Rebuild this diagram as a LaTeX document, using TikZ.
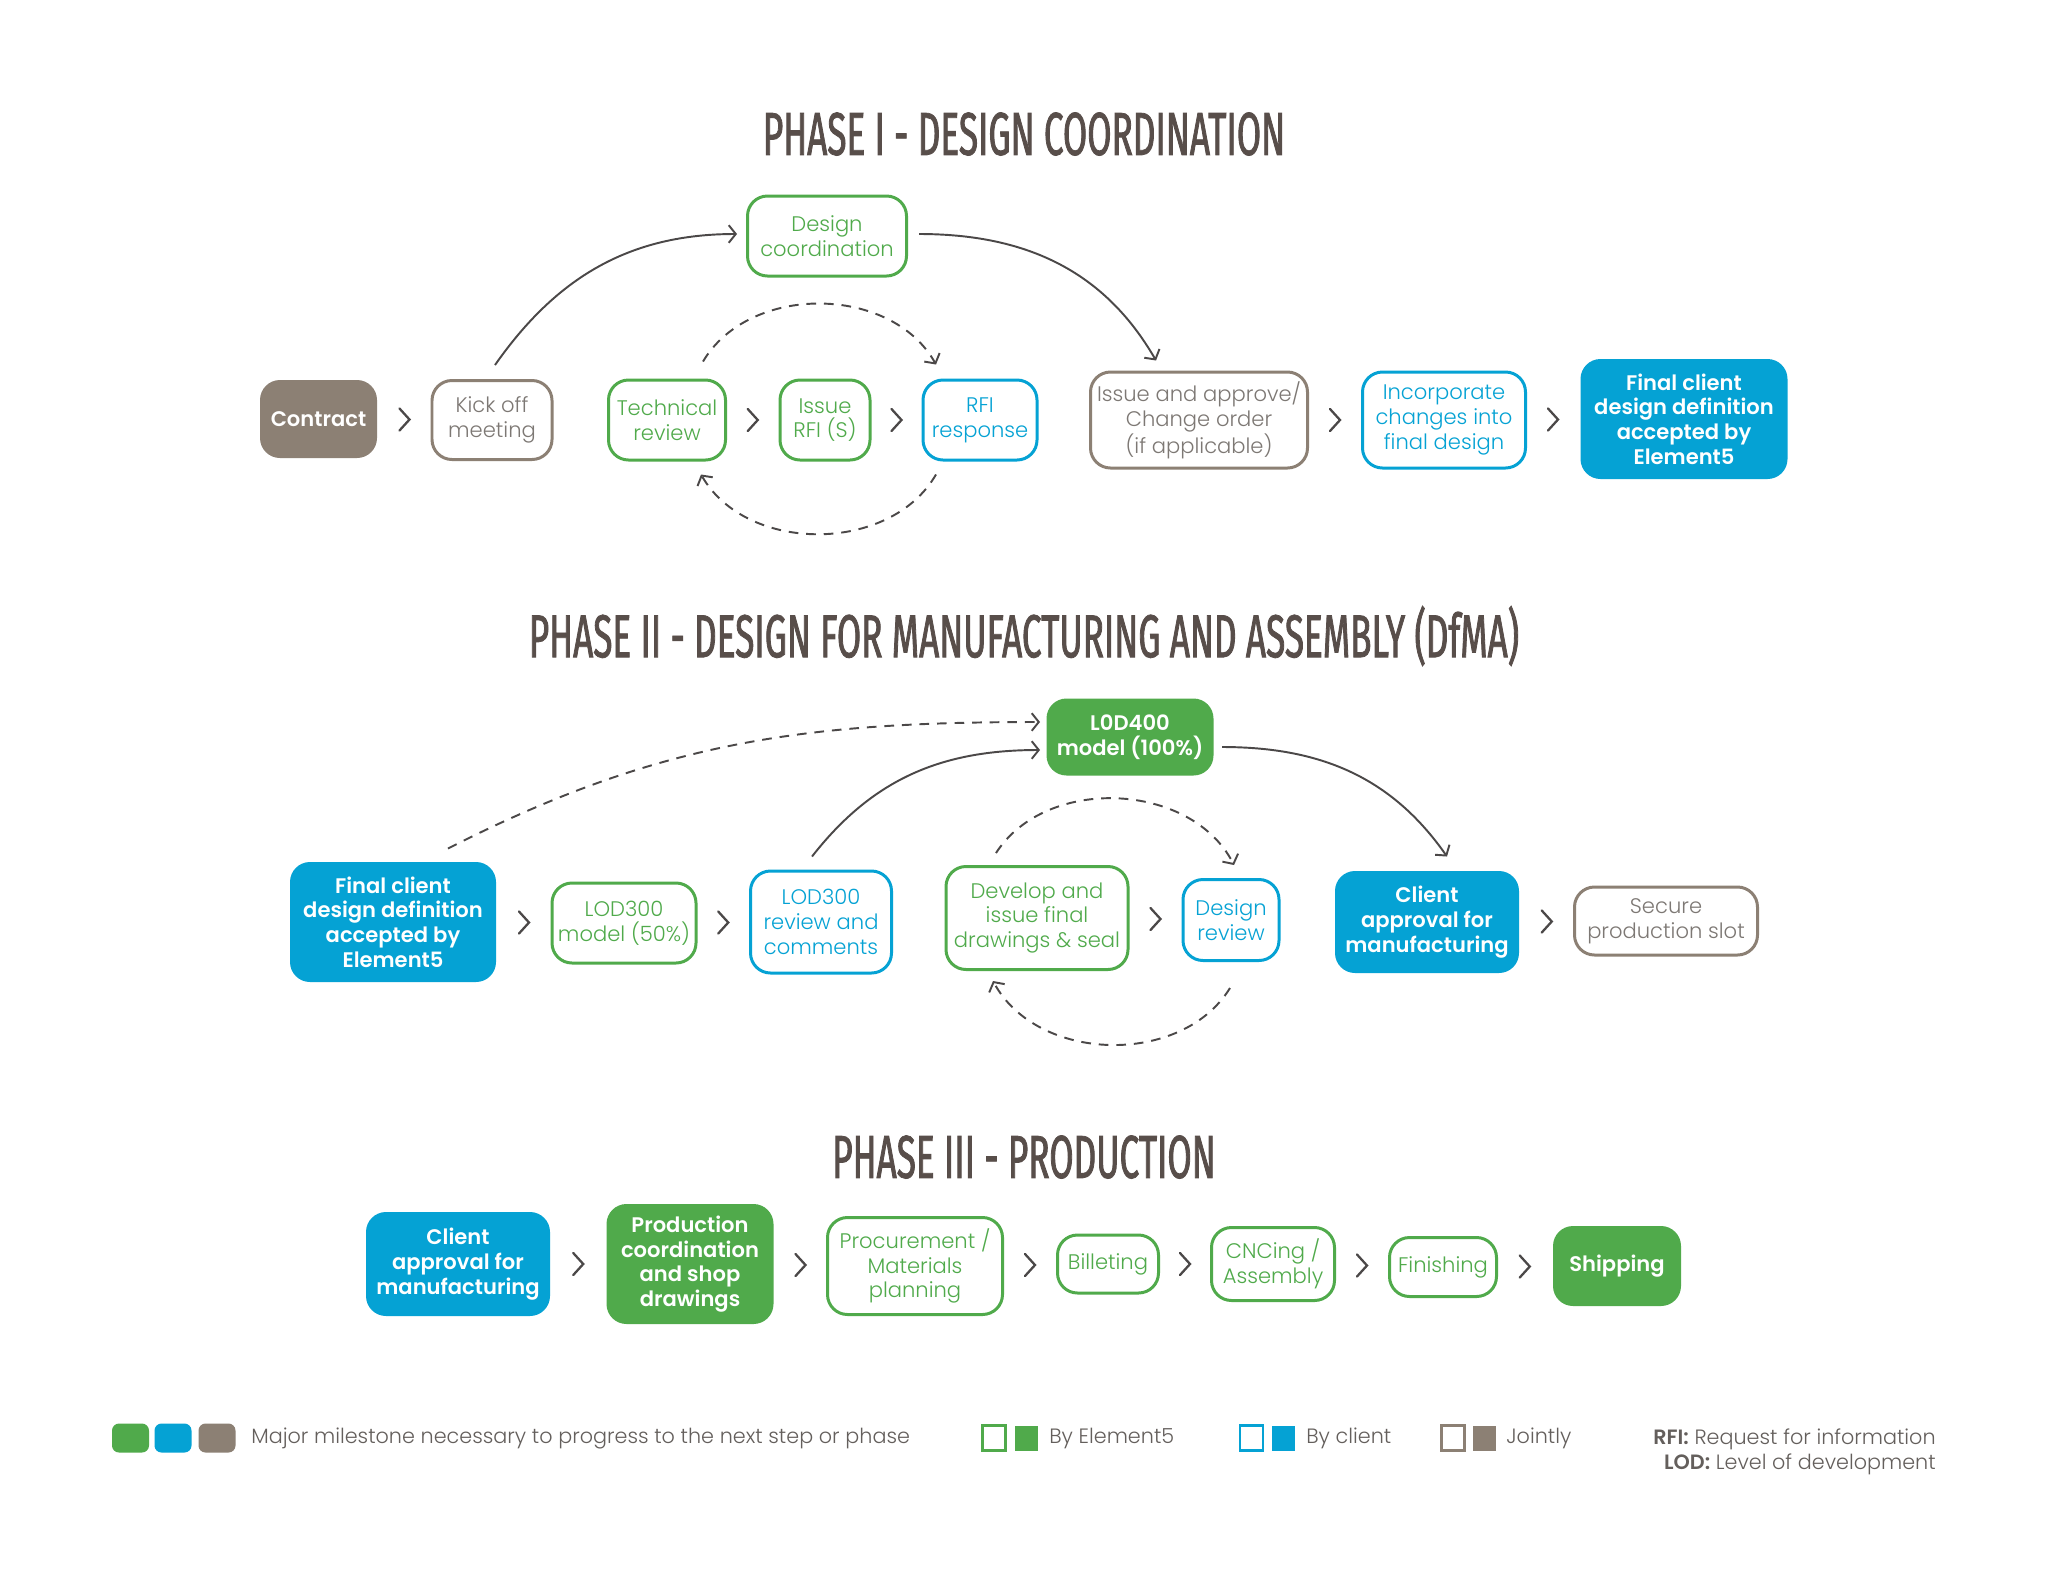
\documentclass[tikz,border=0pt]{standalone}
\usepackage{fontspec}
\setmainfont{Poppins}[UprightFont=* Light, BoldFont=* SemiBold]
\newfontfamily\titlefont[FakeStretch=0.58, FakeBold=1.3]{Fira Sans}
\usetikzlibrary{arrows.meta,calc}
\definecolor{egreen}{RGB}{80,170,75}
\definecolor{eblue}{RGB}{5,162,212}
\definecolor{etaupe}{RGB}{140,128,116}
\definecolor{egray}{RGB}{125,120,116}
\definecolor{etitle}{RGB}{88,78,74}
\definecolor{edark}{RGB}{75,72,72}
\definecolor{elegend}{RGB}{100,95,92}
\newcommand\bodyfs{\fontsize{12}{14.1}\selectfont}
\newcommand\legfs{\fontsize{11.8}{14.1}\selectfont}
\begin{document}
\begin{tikzpicture}[x=0.02cm,y=0.02cm,
  box/.style={rounded corners=0.4cm, line width=1.7pt, align=center, inner sep=0pt, font=\bodyfs},
  sz/.style 2 args={minimum width=#1*0.02cm, minimum height=#2*0.02cm},
  gout/.style={box,draw=egreen,text=egreen},
  bout/.style={box,draw=eblue,text=eblue},
  tout/.style={box,draw=etaupe,text=egray},
  gfill/.style={box,fill=egreen,text=white,font=\bodyfs\bfseries},
  bfill/.style={box,fill=eblue,text=white,font=\bodyfs\bfseries},
  tfill/.style={box,fill=etaupe,text=white,font=\bodyfs\bfseries},
  title/.style={font=\titlefont\fontsize{34.5}{40}\selectfont, text=etitle, inner sep=0pt},
  arr/.style={draw=edark, line width=1.1pt, -{Straight Barb[length=4pt,width=10pt]}},
  darr/.style={arr, dash pattern=on 5.5pt off 4.5pt},
  chev/.pic={\draw[edark, line width=1.3pt, line cap=round, line join=miter] (-5,11) -- (5,0) -- (-5,-11);},
  legtext/.style={font=\legfs, text=elegend, anchor=west, inner sep=0pt},
  legsq/.style={inner sep=0pt, sz={23}{25}}
]
\fill[white] (0,0) rectangle (2048,-1583);
\useasboundingbox (0,0) rectangle (2048,-1583);

% ---------------- PHASE I ----------------
\node[title] (t1) at (1024,-134) {PHASE I - DESIGN COORDINATION};

\node[tfill, sz={117}{78}] (contract) at (318.5,-419) {Contract};
\node[tout, sz={120}{79}] (kick) at (492,-420) {Kick off\\meeting};
\node[gout, sz={117}{80}] (tech) at (667,-420) {Technical\\review};
\node[gout, sz={90}{80}] (rfi) at (825,-420) {Issue\\RFI (S)};
\node[bout, sz={114}{80}] (rfir) at (980,-420) {RFI\\response};
\node[tout, sz={217}{96}] (iss) at (1199,-420) {Issue and approve/\\Change order\\(if applicable)};
\node[bout, sz={163}{96}] (inc) at (1444,-420) {Incorporate\\changes into\\final design};
\node[bfill, sz={207}{120}] (fc1) at (1684,-419) {Final client\\design definition\\accepted by\\Element5};
\node[gout, sz={159}{80}] (dc) at (827,-236) {Design\\coordination};

\pic at ($(contract.east)!0.5!(kick.west)$) {chev};
\pic at ($(tech.east)!0.5!(rfi.west)$) {chev};
\pic at ($(rfi.east)!0.5!(rfir.west)$) {chev};
\pic at ($(iss.east)!0.5!(inc.west)$) {chev};
\pic at ($(inc.east)!0.5!(fc1.west)$) {chev};

\draw[arr] ($(kick.north)+(3,14)$) to[out=55,in=180] ($(dc.west)+(-9,2)$);
\draw[arr] ($(dc.east)+(11,2)$) to[out=0,in=120] ($(iss.north)+(-43,10)$);
\draw[darr] ($(tech.north)+(36,17)$) to[bend left=60] ($(rfir.north)+(-44,14)$);
\draw[darr] ($(rfir.south)+(-44,-13)$) to[bend left=60] ($(tech.south)+(34,-13)$);

% ---------------- PHASE II ----------------
\node[title] (t2) at (1024,-636) {PHASE II - DESIGN FOR MANUFACTURING AND ASSEMBLY (DfMA)};

\node[bfill, sz={206}{120}] (fc2) at (393,-922) {Final client\\design definition\\accepted by\\Element5};
\node[gout, sz={144}{80}] (l3) at (624,-923) {LOD300\\model (50\%)};
\node[bout, sz={141}{102}] (l3r) at (821,-922) {LOD300\\review and\\comments};
\node[gout, sz={182}{103}] (dev) at (1037,-918) {Develop and\\issue final\\drawings \& seal};
\node[bout, sz={96}{81}] (dr) at (1231,-920) {Design\\review};
\node[bfill, sz={184}{102}] (ca2) at (1427,-922) {Client\\approval for\\manufacturing};
\node[tout, sz={183}{68}] (sec) at (1666,-921) {Secure\\production slot};
\node[gfill, sz={167}{77}] (lod4) at (1130,-737) {L0D400\\model (100\%)};

\pic at ($(fc2.east)!0.5!(l3.west)$) {chev};
\pic at ($(l3.east)!0.5!(l3r.west)$) {chev};
\pic at ($(dev.east)!0.5!(dr.west)$) {chev};
\pic at ($(ca2.east)!0.5!(sec.west)$) {chev};

\draw[darr] ($(fc2.north)+(55,12)$) to[out=27,in=180] ($(lod4.west)+(-5,15)$);
\draw[arr] ($(l3r.north)+(-9,13)$) to[out=52,in=180] ($(lod4.west)+(-5,-13)$);
\draw[arr] ($(lod4.east)+(7,-10)$) to[out=0,in=125] ($(ca2.north)+(20,13)$);
\draw[darr] ($(dev.north)+(-41,12)$) to[bend left=60] ($(dr.north)+(3,13)$);
\draw[darr] ($(dr.south)+(-1,-26)$) to[bend left=60] ($(dev.south)+(-44,-10)$);

% ---------------- PHASE III ----------------
\node[title] (t3) at (1024,-1157) {PHASE III - PRODUCTION};

\node[bfill, sz={184}{104}] (ca3) at (458,-1264) {Client\\approval for\\manufacturing};
\node[gfill, sz={167}{120}] (pc) at (690,-1264) {Production\\coordination\\and shop\\drawings};
\node[gout, sz={175}{97}] (proc) at (915,-1266) {Procurement /\\Materials\\planning};
\node[gout, sz={101}{58}] (bil) at (1108,-1264) {Billeting};
\node[gout, sz={123}{73}] (cnc) at (1273,-1264) {CNCing /\\Assembly};
\node[gout, sz={107}{59}] (fin) at (1443,-1267) {Finishing};
\node[gfill, sz={128}{80}] (ship) at (1617,-1266) {Shipping};

\pic at ($(ca3.east)!0.5!(pc.west)$) {chev};
\pic at ($(pc.east)!0.5!(proc.west)$) {chev};
\pic at ($(proc.east)!0.5!(bil.west)$) {chev};
\pic at ($(bil.east)!0.5!(cnc.west)$) {chev};
\pic at ($(cnc.east)!0.5!(fin.west)$) {chev};
\pic at ($(fin.east)!0.5!(ship.west)$) {chev};

% ---------------- LEGEND ----------------
\node[fill=egreen, rounded corners=0.14cm, inner sep=0pt, sz={37}{29}] (m1) at (130.5,-1438) {};
\node[fill=eblue, rounded corners=0.14cm, inner sep=0pt, sz={37}{29}] (m2) at (173,-1438) {};
\node[fill=etaupe, rounded corners=0.14cm, inner sep=0pt, sz={37}{29}] (m3) at (217,-1438) {};
\node[legtext] (mt) at (251,-1438) {Major milestone necessary to progress to the next step or phase};

\node[legsq, draw=egreen, line width=1.2pt] (ge) at (994,-1438) {};
\node[legsq, fill=egreen] (gf) at (1026,-1438) {};
\node[legtext] (gt) at (1049,-1438) {By Element5};

\node[legsq, draw=eblue, line width=1.2pt] (be) at (1251.5,-1438) {};
\node[legsq, fill=eblue] (bf) at (1283,-1438) {};
\node[legtext] (bt) at (1306,-1438) {By client};

\node[legsq, draw=etaupe, line width=1.2pt] (te) at (1453,-1438) {};
\node[legsq, fill=etaupe] (tf) at (1484,-1438) {};
\node[legtext] (tt) at (1506,-1438) {Jointly};

\node[legtext, anchor=east] (rfil) at (1936,-1439) {\textbf{RFI:} Request for information};
\node[legtext, anchor=east] (lodl) at (1936,-1464) {\textbf{LOD:} Level of development};
\end{tikzpicture}
\end{document}
